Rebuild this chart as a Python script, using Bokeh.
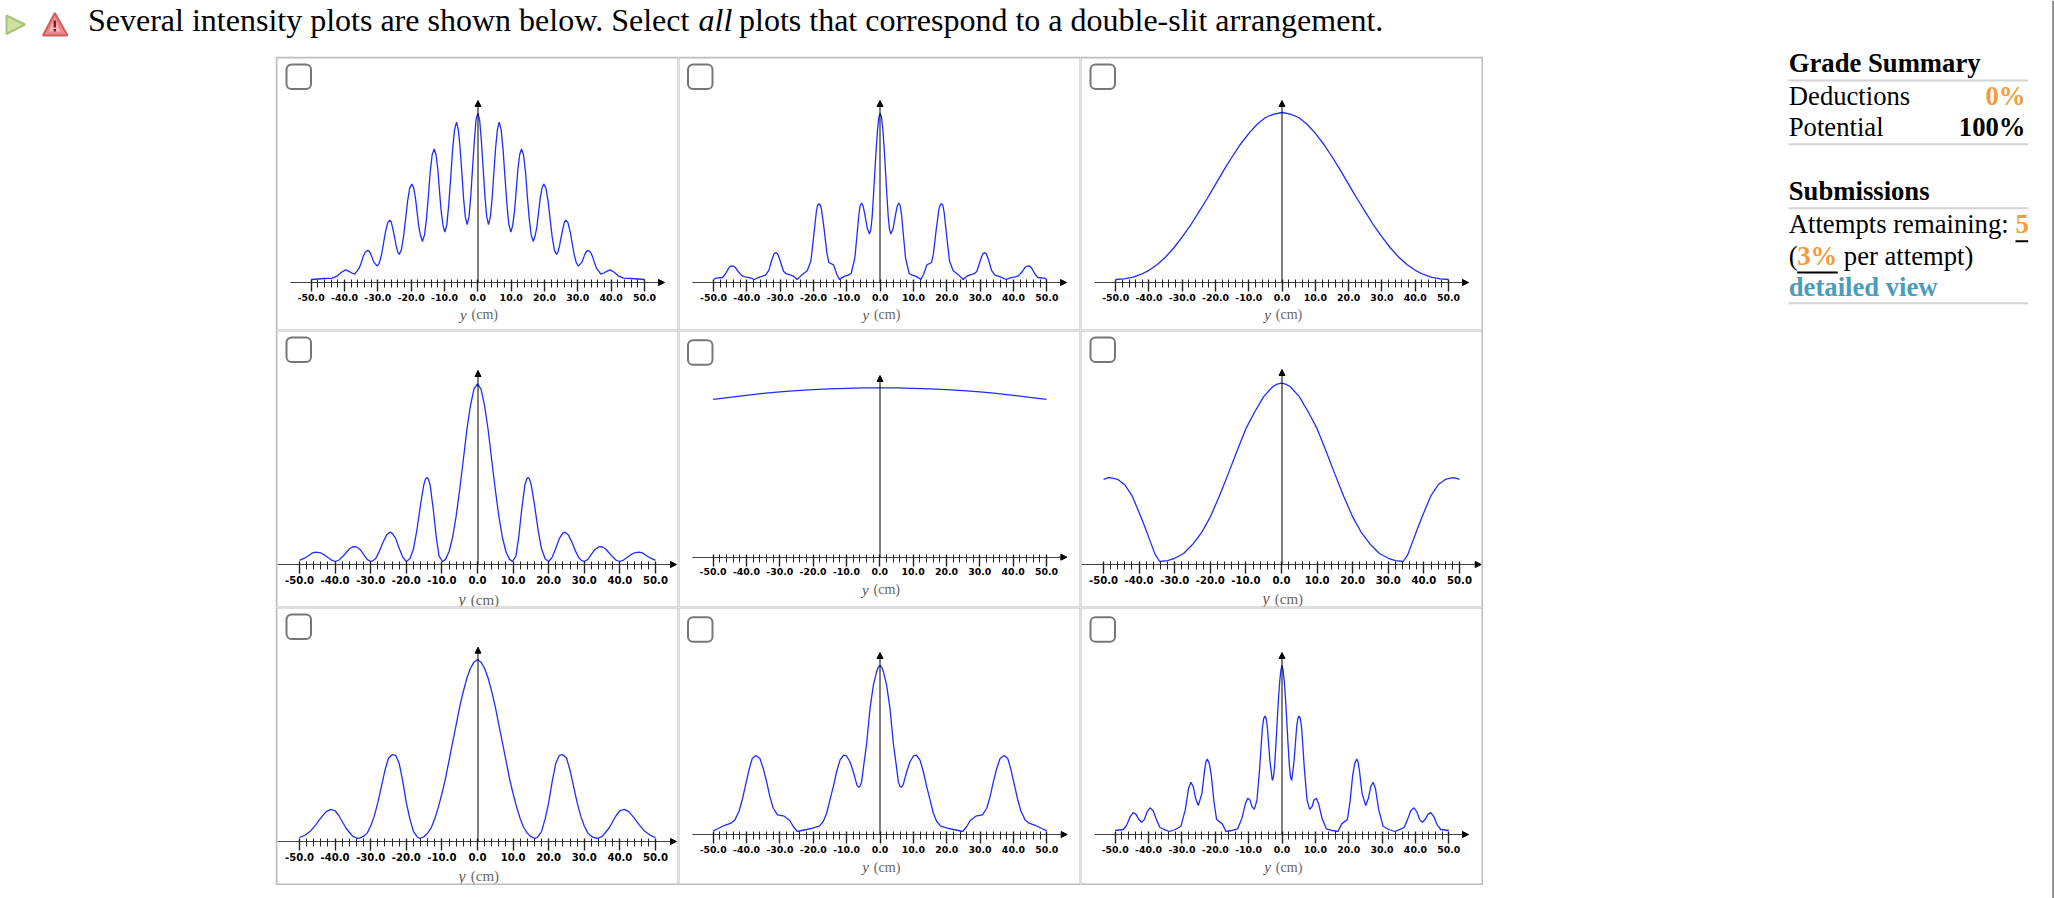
from bokeh.core.properties import value
from bokeh.embed import file_html
from bokeh.layouts import column, row
from bokeh.models import (Arrow, BoxAnnotation, FixedTicker, NormalHead, PrintfTickFormatter,
                          Range1d, Spacer)
from bokeh.plotting import figure
from bokeh.resources import INLINE
import math

# Right half of every symmetric intensity curve (y in cm, relative intensity)
P1_X = [0, .55, 1.07, 1.6, 2.13, 2.65, 3.2, 3.75, 4.27, 4.8, 5.33, 5.85, 6.4, 7, 7.57, 8.15, 8.73, 9.3, 9.9, 10.45, 11,
        11.5, 12, 12.55, 13.1, 13.7, 14.3, 14.85, 15.4, 16, 16.6, 17.15, 17.7, 18.2, 18.7, 19.25, 19.8, 20.45, 21.1,
        21.7, 22.3, 22.95, 23.6, 24.05, 24.5, 25, 25.5, 25.95, 26.4, 27.05, 27.7, 28.3, 28.9, 29.55, 30.2, 31.2, 32.1,
        32.6, 33.1, 33.75, 34.4, 35, 35.6, 36.9, 37.8, 38.8, 39.7, 41, 42.3, 43.7, 46, 48, 50]
P1_Y = [1, .958, .83, .665, .5, .378, .33, .375, .484, .641, .792, .9, .946, .9, .781, .612, .45, .33, .285, .325, .41,
        .53, .66, .75, .785, .75, .646, .5, .368, .268, .229, .26, .315, .4, .488, .55, .574, .548, .468, .36, .256,
        .178, .15, .167, .202, .255, .305, .343, .357, .34, .288, .218, .149, .1, .08, .104, .151, .169, .175, .165,
        .139, .1, .068, .032, .039, .05, .058, .042, .02, .008, .006, .003, 0]

P2_X = [0, .4, .8, 1.2, 1.6, 2, 2.4, 2.8, 3.2, 3.9, 4.6, 5.1, 5.55, 6, 6.4, 6.9, 7.6, 8.7, 9.6, 10.6, 11.5, 12.2, 13,
        14, 15.4, 16, 16.8, 17.6, 18, 18.4, 18.8, 19.2, 20, 20.8, 21.9, 23.8, 24.9, 26, 27, 28.3, 29, 30.2, 30.8, 31.3,
        31.8, 32.4, 33.4, 34.4, 36, 37.8, 39, 40.5, 41.4, 42.5, 43.5, 44, 44.4, 44.9, 45.4, 46.4, 47.3, 49.2, 50]
P2_Y = [1, .975, .9, .785, .65, .51, .38, .3, .273, .31, .39, .44, .46, .445, .39, .28, .13, .036, .026, .02, .01, 0,
        .03, .088, .102, .16, .3, .42, .448, .456, .445, .4, .25, .11, .052, .022, 0, .02, .028, .036, .05, .125, .155,
        .163, .155, .125, .055, .026, .016, 0, .01, .016, .022, .045, .074, .08, .082, .08, .07, .033, .012, .008, 0]

P3_X = [0, 2.5, 5, 7.5, 10, 12.5, 15, 17.5, 20, 22.5, 25, 27.5, 30, 32.5, 35, 37.5, 40, 42.5, 45, 47.5, 50]
P3_Y = [1, .99, .97, .93, .875, .81, .735, .655, .57, .485, .405, .325, .255, .19, .135, .09, .055, .03, .013,
        .004, 0]

P4_X = [0, 1, 2, 3, 4, 5, 6, 7, 8, 9, 9.8, 10.8, 11.6, 12.4, 13.3, 13.8, 14.2, 14.6, 15.1, 16, 17, 18, 19, 20, 21, 22,
        23, 24, 24.6, 25.5, 26.5, 27.5, 28.5, 29.3, 30, 31, 32, 33, 34, 34.9, 36, 37, 38, 39, 40, 41, 42, 43, 44, 45.4,
        46.5, 47.5, 48.5, 50]
P4_Y = [1, .97, .875, .74, .57, .405, .255, .135, .055, .012, 0, .03, .14, .29, .43, .463, .473, .465, .43, .32, .18,
        .07, .015, 0, .025, .075, .13, .16, .165, .15, .11, .06, .02, .005, 0, .012, .04, .068, .082, .084, .07, .048,
        .025, .007, 0, .008, .022, .037, .048, .053, .047, .032, .02, .006]

P5_X = [0, 5, 10, 15, 20, 25, 30, 35, 40, 45, 50]
P5_Y = [1, .999, .997, .994, .989, .983, .975, .966, .955, .943, .93]

P6_X = [0, 1.2, 2.5, 5, 7.5, 10, 12.5, 15, 17.5, 20, 22.5, 25, 27.5, 30, 32, 34.2, 35.5, 37, 38.5, 40, 42, 44, 46, 47.5,
        48.5, 50]
P6_Y = [1, .995, .98, .925, .84, .745, .62, .49, .365, .25, .16, .095, .045, .018, .005, 0, .04, .12, .2, .275, .37,
        .43, .46, .468, .47, .46]

P7_X = [0, 1, 2, 3, 4, 5, 6, 7, 8, 9, 10, 11, 12, 13, 14, 15, 16.2, 17, 18, 19, 20, 21, 22, 23, 23.9, 25, 26, 27, 28,
        29, 30, 31, 32, 33, 33.7, 35, 36, 37, 38, 39, 40, 41.2, 42.5, 44, 45.5, 47, 48.5, 50]
P7_Y = [1, .985, .95, .895, .82, .735, .635, .535, .435, .335, .25, .175, .11, .06, .03, .01, 0, .01, .04, .11, .2,
        .32, .42, .465, .469, .45, .38, .29, .2, .125, .07, .03, .012, .003, 0, .012, .035, .06, .095, .13, .155,
        .163, .15, .115, .075, .04, .018, .005]

P8_X = [0, .5, 1, 2, 3, 4, 4.8, 5.5, 6, 6.4, 6.8, 7.2, 8, 9, 10, 10.9, 12, 13, 14, 15, 16, 17, 18.2, 20.2, 22, 23.5,
        24.8, 26, 27, 28.7, 30.7, 32, 33, 34, 35, 36, 37.2, 38.3, 39.3, 40.3, 41.3, 42.3, 43.5, 44.7, 46.7, 48.5, 50]
P8_Y = [1, .99, .965, .88, .74, .53, .41, .3, .272, .267, .275, .3, .36, .42, .455, .46, .43, .36, .27, .19, .11, .06,
        .032, .02, .012, .006, 0, .03, .065, .092, .1, .14, .21, .3, .38, .44, .458, .44, .37, .28, .19, .12, .07, .05,
        .036, .018, .004]

P9_X = [0, .35, .7, 1.05, 1.4, 1.8, 2.2, 2.55, 2.9, 3.6, 4.4, 4.75, 5.1, 5.5, 5.9, 6.7, 7.5, 8.3, 9, 9.6, 10.3, 11, 12,
        13.3, 15.1, 16.8, 17.9, 19.6, 20.4, 21.2, 21.8, 22.4, 22.8, 23.2, 24, 25.1, 25.9, 26.6, 27.3, 28, 29, 30.3, 32,
        33.8, 35, 36.6, 37.6, 38.6, 39.6, 40.5, 41.3, 42.1, 43, 43.8, 44.6, 45.5, 46.5, 47.6, 50]
P9_Y = [1, .97, .9, .8, .68, .53, .4, .33, .307, .42, .63, .68, .695, .68, .62, .38, .19, .133, .15, .19, .2, .165, .08,
        .016, .006, 0, .046, .072, .18, .34, .41, .436, .42, .37, .23, .157, .2, .27, .297, .26, .13, .032, .012, 0,
        .01, .024, .07, .125, .143, .115, .07, .056, .075, .105, .114, .09, .04, .012, .006]

MAJOR_TICKS = [-50, -40, -30, -20, -10, 0, 10, 20, 30, 40, 50]
MINOR_TICKS = [-48, -46, -44, -42, -38, -36, -34, -32, -28, -26, -24, -22, -18, -16, -14, -12, -8, -6, -4, -2,
               2, 4, 6, 8, 12, 14, 16, 18, 22, 24, 26, 28, 32, 34, 36, 38, 42, 44, 46, 48]
AXIS_LABEL_VAR = "y"
AXIS_LABEL_UNIT = "(cm)"
QUESTION = ["Several intensity plots are shown below. Select", "all",
            "plots that correspond to a double-slit arrangement."]

BLUE = "#1f2cff"
GRID = "#bdbdbd"
ORANGE = "#f39c38"
TEAL = "#4b9cbc"
SERIF = value("Liberation Serif")

CELL_X = [(276, 678), (678, 1080), (1080, 1482)]
CELL_Y = [(57, 330), (330, 607), (607, 884)]
FIG_X = [(275, 678), (678, 1080), (1080, 1483)]
FIG_Y = [(56, 330), (330, 607), (607, 885)]

# x of -50, x of +50, axis y, peak y, arrow tip y, axis ends, tick font px, unit label y, checkbox corner
LAYOUT = [
    (310.7, 644, 282, 112.7, 100, 290, 664, 9.4, 314, 286, 64),
    (713, 1046.4, 282, 112.7, 100, 692, 1066, 9.4, 314, 687.5, 64),
    (1115.2, 1448, 282, 112, 100, 1093.5, 1468, 9.4, 314, 1090, 64),
    (299, 655, 564, 383.3, 370, 276.7, 676, 10.1, 599, 286, 337),
    (712.6, 1046, 556.7, 387.3, 375, 692, 1066.4, 9.4, 589, 687.5, 339.7),
    (1103, 1459, 564, 382.7, 369, 1081, 1480.7, 10.1, 598, 1090, 337),
    (299, 655, 841, 659, 646.7, 276.7, 676, 10.1, 875.7, 286, 614),
    (712.7, 1046.3, 834, 665, 652, 692, 1066.7, 9.4, 866.7, 687.5, 616.7),
    (1114.7, 1448.3, 834, 665, 652, 1094, 1468, 9.4, 866.7, 1090, 616.7),
]
CURVES = [(P1_X, P1_Y), (P2_X, P2_Y), (P3_X, P3_Y), (P4_X, P4_Y), (P5_X, P5_Y),
          (P6_X, P6_Y), (P7_X, P7_Y), (P8_X, P8_Y), (P9_X, P9_Y)]


def panel(i):
    r, c = divmod(i, 3)
    xm, xp, ax, peak, tip, al, ar, fs, ylab, bx, by = LAYOUT[i]
    base = ax - 3
    fx = lambda px: -50 + (px - xm) * 100 / (xp - xm)
    fy = lambda py: (base - py) / (base - peak)
    L, R = FIG_X[c]
    T, B = FIG_Y[r]
    p = figure(width=R - L, height=B - T, x_range=Range1d(fx(L), fx(R)), y_range=Range1d(fy(B), fy(T)),
               y_axis_type=None, output_backend="svg", toolbar_location=None, tools="", min_border=0,
               outline_line_color=None)
    p.grid.visible = False
    p.add_layout(BoxAnnotation(left=fx(CELL_X[c][0]), right=fx(CELL_X[c][1]), top=fy(CELL_Y[r][0]),
                               bottom=fy(CELL_Y[r][1]), fill_alpha=0, line_color=GRID, line_width=2, line_alpha=1))
    p.add_layout(BoxAnnotation(left=fx(bx), right=fx(bx + 24.5), top=fy(by), bottom=fy(by + 24.5), fill_alpha=0,
                               line_color="#777777", line_width=2, line_alpha=1, border_radius=5))

    a = p.xaxis[0]
    a.fixed_location = fy(ax)
    a.bounds = (fx(al), fx(ar - 3))
    a.ticker = FixedTicker(ticks=MAJOR_TICKS, minor_ticks=MINOR_TICKS)
    a.formatter = PrintfTickFormatter(format="%.1f")
    a.axis_line_color = "#444444"
    a.axis_line_width = 1.2
    a.major_tick_line_color = "#222222"
    a.major_tick_line_width = 1.4
    a.major_tick_in = 3
    a.major_tick_out = 9
    a.minor_tick_line_color = "#222222"
    a.minor_tick_line_width = 1
    a.minor_tick_in = 3
    a.minor_tick_out = 5
    a.major_label_standoff = 2
    a.major_label_text_font = "DejaVu Sans"
    a.major_label_text_font_style = "bold"
    a.major_label_text_font_size = f"{fs}px"
    a.major_label_text_color = "black"

    xs, ys = CURVES[i]
    p.line([-v for v in reversed(xs[1:])] + xs, list(reversed(ys[1:])) + ys, line_color=BLUE, line_width=1.3)

    head = lambda: NormalHead(size=6, fill_color="black", line_color="black", line_width=1)
    x0 = (xm + xp) / 2
    xa = fx(math.floor(x0) + .5)
    p.add_layout(Arrow(end=head(), x_start=xa, x_end=xa, y_start=fy(ax), y_end=fy(tip), line_color="black",
                       line_width=1))
    p.add_layout(Arrow(end=head(), x_start=fx(ar - 8), x_end=fx(ar), y_start=fy(ax), y_end=fy(ax),
                       line_color="#444444", line_width=1.2))

    k = (xp - xm) / 356
    p.text([fx(x0 - 15.4 * k)], [fy(ylab)], text=[AXIS_LABEL_VAR], text_font=SERIF, text_font_style="italic",
           text_font_size=f"{16 * k:.1f}px", text_color="#555555", text_align="center", text_baseline="middle")
    p.text([fx(x0 - 6.7 * k)], [fy(ylab)], text=[AXIS_LABEL_UNIT], text_font=SERIF,
           text_font_size=f"{15 * k:.1f}px", text_color="#666666", text_align="left", text_baseline="middle")
    return p


def px_figure(x0, x1, y0, y1):
    p = figure(width=x1 - x0, height=y1 - y0, x_range=Range1d(x0, x1), y_range=Range1d(y1, y0), x_axis_type=None,
               y_axis_type=None, output_backend="svg", toolbar_location=None, tools="", min_border=0,
               outline_line_color=None)
    p.grid.visible = False
    return p


# Header
h = px_figure(0, 1760, 0, 56)
h.patch([6, 24.5, 6], [15, 24, 33.5], fill_color="#cfe0a0", line_color="#a9c27c", line_width=2)
h.patch([54.3, 67, 42.5], [12.5, 35, 35], fill_color="#e98a8a", line_color="#d25f5f", line_width=2)
h.patch([54.3, 60, 48.5], [18, 31, 31], fill_color="#f2b8b8", line_color=None)
h.segment([54.3], [20], [54.3], [27], line_color="#8a1818", line_width=2.5)
h.segment([54.3], [28.5], [54.3], [31], line_color="#8a1818", line_width=2.5)
QFS = "32px"
QY = 19
h.text([87.5], [QY], text=[QUESTION[0]], text_font=SERIF, text_font_size=QFS, text_color="black",
       text_baseline="middle")
h.text([698], [QY], text=[QUESTION[1]], text_font=SERIF, text_font_style="italic", text_font_size=QFS,
       text_color="black", text_baseline="middle")
h.text([738.5], [QY], text=[QUESTION[2]], text_font=SERIF, text_font_size=QFS, text_color="black",
       text_baseline="middle")

# Sidebar
s = px_figure(1760, 2054, 0, 898)
SFS = "26.67px"


def stext(x, y, t, color="black", style="normal", align="left"):
    s.text([x], [y - 9], text=[t], text_font=SERIF, text_font_style=style, text_font_size=SFS, text_color=color,
           text_align=align, text_baseline="middle")


for yy in (80, 143.7, 207.7, 302.7):
    s.segment([1788], [yy], [2027.7], [yy], line_color="#d4d4d4", line_width=2)
s.segment([2015], [240.7], [2027.7], [240.7], line_color="black", line_width=2)
s.segment([1796.7], [272], [1837.3], [272], line_color="black", line_width=2)
s.quad(left=[2051.7], right=[2054], top=[0], bottom=[898], fill_color="#888888", line_color=None)
stext(1788.3, 71.7, "Grade Summary", style="bold")
stext(1788.3, 104, "Deductions")
stext(2025, 104, "0%", ORANGE, "bold", "right")
stext(1788.3, 135.7, "Potential")
stext(2025, 135.7, "100%", style="bold", align="right")
stext(1788.3, 199.3, "Submissions", style="bold")
stext(1788.3, 232, "Attempts remaining:")
stext(2015, 232, "5", ORANGE, "bold")
stext(1788.3, 264, "(")
stext(1796.7, 264, "3%", ORANGE, "bold")
stext(1843.3, 264, "per attempt)")
stext(1788.3, 295, "detailed view", TEAL, "bold")

panels = [panel(i) for i in range(9)]
rows = [row(Spacer(width=275, height=panels[i].height), panels[i], panels[i + 1], panels[i + 2])
        for i in (0, 3, 6)]
left = column(h, *rows)
root = row(left, s)

open("out.html", "w").write(file_html(root, INLINE))
